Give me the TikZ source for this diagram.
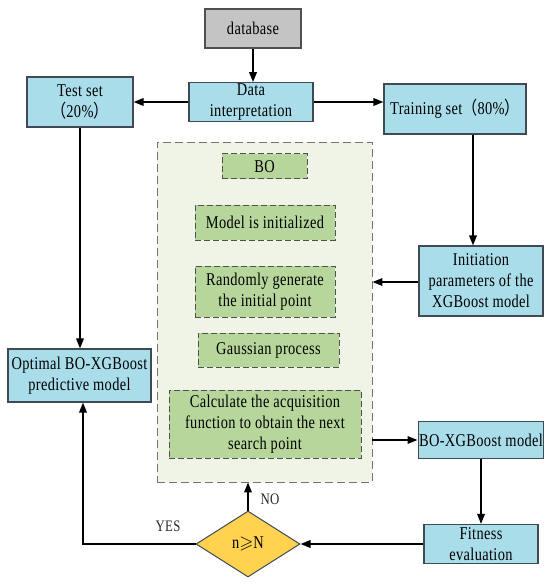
\documentclass[tikz,border=0pt]{standalone}
\usepackage{fontspec}
\usepackage{amssymb}
\setmainfont{Liberation Serif}[FakeStretch=0.8,LetterSpace=2]
\newfontfamily\cjk{Noto Sans CJK SC}[FakeStretch=0.84]
\usetikzlibrary{arrows.meta,shapes.geometric}
\definecolor{bluefill}{HTML}{A9DDEA}
\definecolor{blueline}{HTML}{3F4A55}
\definecolor{grayfill}{HTML}{C4C4C4}
\definecolor{grayline}{HTML}{505050}
\definecolor{greenfill}{HTML}{B7D69B}
\definecolor{contfill}{HTML}{EFF4E6}
\definecolor{dashline}{HTML}{505050}
\definecolor{goldfill}{HTML}{FFD24F}
\tikzset{
  base/.style={rectangle, inner sep=1pt, align=center, font=\fontsize{18}{21}\selectfont, text=black},
  bluebox/.style={base, fill=bluefill, draw=blueline, line width=1.1pt},
  graybox/.style={base, fill=grayfill, draw=grayline, line width=1.1pt},
  greenbox/.style={base, fill=greenfill, draw=dashline, line width=1pt, dash pattern=on 6pt off 3pt},
  contbox/.style={rectangle, fill=contfill, draw=dashline!80, line width=0.9pt, dash pattern=on 8pt off 4pt},
  decision/.style={diamond, fill=goldfill, draw=blueline, line width=1pt, inner sep=0pt, font=\fontsize{18}{21}\selectfont},
  arr/.style={-{Triangle[length=10pt,width=7.5pt]}, line width=1.8pt, black},
  lbl/.style={font=\fontsize{16}{16}\selectfont, text=black!85, inner sep=0pt}
}
\begin{document}
\begin{tikzpicture}[x=1pt,y=-1pt]
\useasboundingbox (0,0) rectangle (550,585);
\fill[white] (0,0) rectangle (550,585);
% container
\node[contbox, minimum width=215pt, minimum height=340pt] (cont) at (264.5,312) {};
% top nodes
\node[graybox, minimum width=96pt, minimum height=39pt] (db) at (253,28.5) {database};
\node[bluebox, minimum width=124pt, minimum height=38pt] (di) at (251,102) {Data\\interpretation};
\node[bluebox, minimum width=106pt, minimum height=50pt] (test) at (80,102) {Test set\\{\cjk （}20\%{\cjk ）}};
\node[bluebox, minimum width=142pt, minimum height=50pt] (train) at (455,109) {Training set{\cjk （}80\%{\cjk ）}};
\node[bluebox, minimum width=124pt, minimum height=70pt] (init) at (481,281) {Initiation\\parameters of the\\XGBoost model};
\node[bluebox, minimum width=124pt, minimum height=37pt] (bx) at (481,440) {BO-XGBoost model};
\node[bluebox, minimum width=114pt, minimum height=39pt] (fit) at (481,544) {Fitness\\evaluation};
\node[bluebox, minimum width=143pt, minimum height=53pt] (opt) at (79.5,375.5) {Optimal BO-XGBoost\\predictive model};
% inner boxes
\node[greenbox, minimum width=85pt, minimum height=25pt] (bo) at (264.5,166.5) {BO};
\node[greenbox, minimum width=140pt, minimum height=35pt] (mi) at (265,222.5) {Model is initialized};
\node[greenbox, minimum width=140pt, minimum height=51pt] (rg) at (265,291.5) {Randomly generate\\the initial point};
\node[greenbox, minimum width=141pt, minimum height=34pt] (gp) at (268.5,350) {Gaussian process};
\node[greenbox, minimum width=192pt, minimum height=68pt] (ca) at (265,424) {Calculate the acquisition\\function to obtain the next\\search point};
% decision
\node[decision, minimum width=104pt, minimum height=66pt] (dm) at (248,544) {n$\geqslant$N};
% connectors
\draw[arr] (db.south) -- (db.south |- di.north);
\draw[arr] (di.west) -- (test.east |- di.west);
\draw[arr] (di.east) -- (di.east -| train.west);
\draw[arr] ([xshift=18pt]train.south) -- ([xshift=18pt]train.south |- init.north);
\draw[arr] ([yshift=-1pt]init.west) -- ([yshift=-1pt]init.west -| cont.east);
\draw[arr] (cont.east |- bx.west) -- (bx.west);
\draw[arr] (bx.south) -- (bx.south |- fit.north);
\draw[arr] (fit.west) -- (dm.east);
\draw[arr] (dm.north) -- (dm.north |- cont.south);
\draw[arr] (dm.west) -| ([xshift=3.5pt]opt.south);
\draw[arr] (test.south) -- (test.south |- opt.north);
% labels
\node[lbl] (no) at (270,499) {NO};
\node[lbl] (yes) at (168,526) {YES};
\end{tikzpicture}
\end{document}
